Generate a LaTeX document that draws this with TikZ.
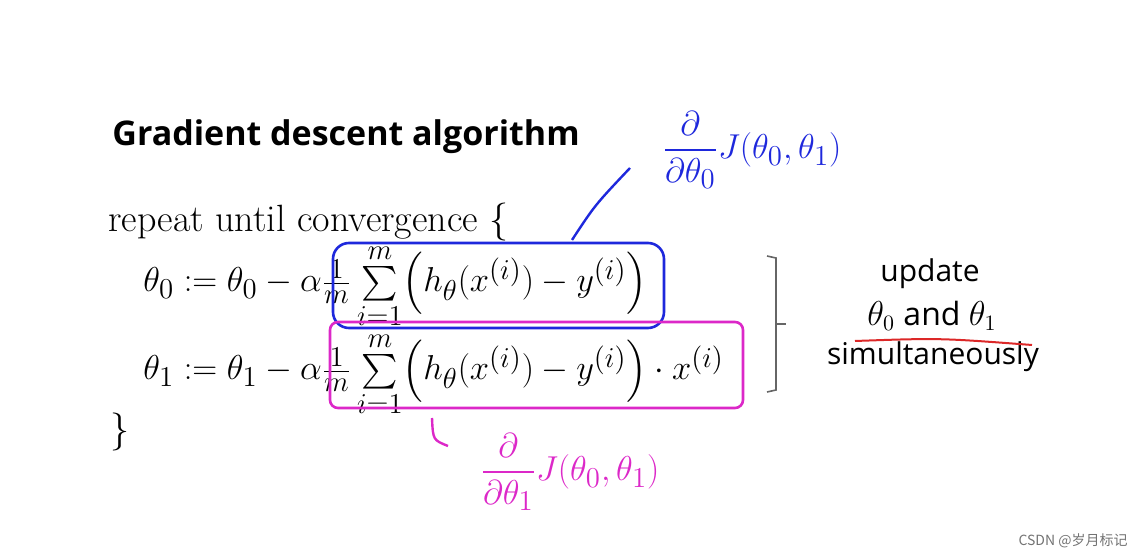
\documentclass[tikz,border=0pt]{standalone}
\usepackage{amsmath}
\usepackage{fontspec}
\newfontfamily\sansf{Open Sans}
\newfontfamily\cjk{Noto Sans CJK SC}
\definecolor{hblue}{RGB}{30,40,220}
\definecolor{hmag}{RGB}{220,40,200}
\definecolor{hred}{RGB}{220,40,40}
\begin{document}
\begin{tikzpicture}[x=0.5pt,y=-0.5pt,
  txt/.style={anchor=base west,inner sep=0pt},
  big/.style={font=\fontsize{19}{22}\selectfont},
  eq/.style={font=\fontsize{19}{22}\selectfont},
  hand/.style={font=\fontsize{19}{22}\selectfont},
  side/.style={font=\sansf\fontsize{15}{18}\selectfont,inner sep=0pt}]
\useasboundingbox (0,0) rectangle (1142,560);
\node[txt,font=\sansf\bfseries\fontsize{17}{20}\selectfont] (title) at (112,146) {Gradient descent algorithm};
\node[txt,big] (rep) at (108,232) {repeat until convergence \{};
\node[txt,eq] (t0) at (143,292) {$\theta_0 := \theta_0 - \alpha\frac{1}{m}\sum\limits_{i=1}^{m}\Bigl(h_\theta(x^{(i)})-y^{(i)}\Bigr)$};
\node[txt,eq] (t1) at (143,380) {$\theta_1 := \theta_1 - \alpha\frac{1}{m}\sum\limits_{i=1}^{m}\Bigl(h_\theta(x^{(i)})-y^{(i)}\Bigr)\cdot x^{(i)}$};
\node[txt,big] (cl) at (110,442) {\}};
\draw[hblue,line width=1.3pt,rounded corners=8pt] (333,243) rectangle (664,328);
\draw[hmag,line width=1.3pt,rounded corners=4pt] (330,322) rectangle (743,408);
\node[hblue,hand,inner sep=0pt] (d0) at (752,150) {$\dfrac{\partial}{\partial\theta_0}J(\theta_0,\theta_1)$};
\coordinate (b0) at (572,240);
\draw[hblue,line width=1.2pt] (b0) .. controls (595,205) .. (630,168);
\node[hmag,hand,inner sep=0pt] (d1) at (570,472) {$\dfrac{\partial}{\partial\theta_1}J(\theta_0,\theta_1)$};
\coordinate (m0) at (432,418);
\draw[hmag,line width=1.2pt] (m0) .. controls (433,440) .. (448,446);
\draw[black!60,line width=0.8pt] (767,256) -- (776,258) -- (776,390) -- (767,392);
\draw[black!60,line width=0.8pt] (776,324) -- (786,324);
\node[side] (u1) at (930,274) {update};
\node[side,font=\sansf\fontsize{16}{18}\selectfont] (u2) at (932,316) {$\theta_0$ and $\theta_1$};
\node[side] (u3) at (933,357) {simultaneously};
\draw[hred,line width=1pt] (855,341) .. controls (940,338) .. (1032,345);
\node[anchor=east,inner sep=0pt,text=black!55,font=\cjk\fontsize{7}{8}\selectfont] (wm) at (1128,541) {CSDN @岁月标记};
\end{tikzpicture}
\end{document}
